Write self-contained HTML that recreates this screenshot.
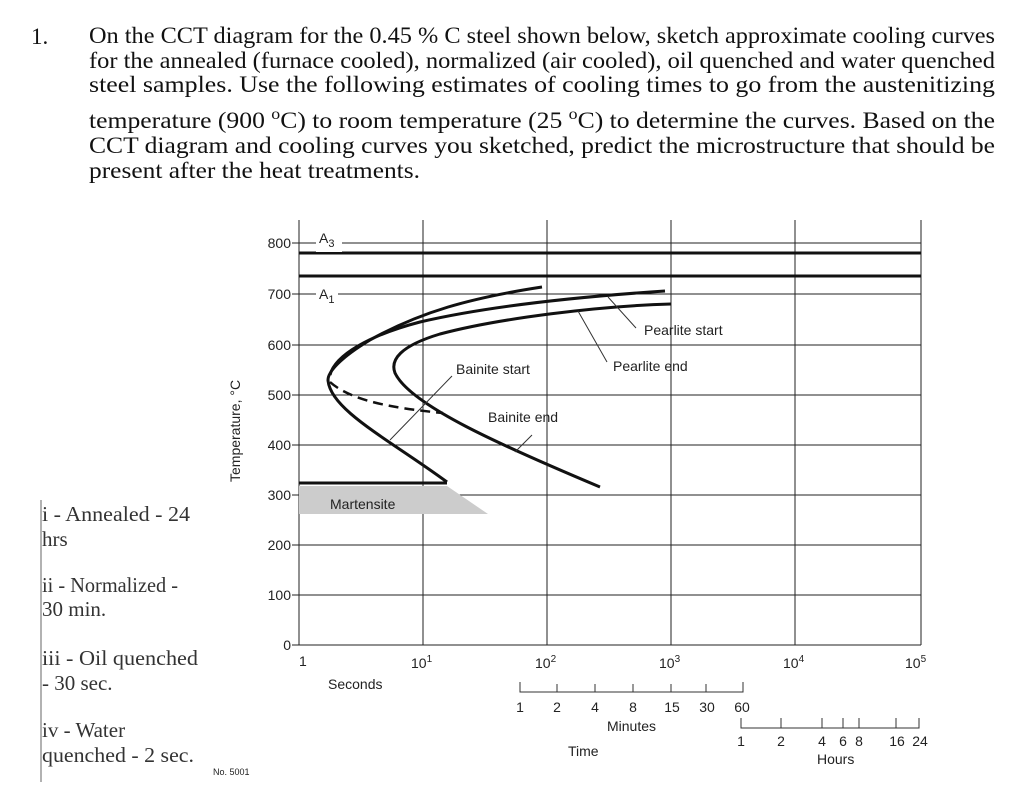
<!DOCTYPE html>
<html><head><meta charset="utf-8"><style>
html,body{margin:0;padding:0;background:#fff;}
svg{display:block;}
.h{font-family:"Liberation Serif",serif;font-size:23px;fill:#111;}
.a{font-family:"Liberation Sans",sans-serif;font-size:14px;fill:#222;}
.n{font-family:"Liberation Serif",serif;font-size:21px;fill:#333;}
</style></head><body>
<svg width="1024" height="799" viewBox="0 0 1024 799" xmlns="http://www.w3.org/2000/svg">
<text class="h" x="31" y="44" font-size="18">1.</text>
<text class="h" x="89" y="43" textLength="906" lengthAdjust="spacingAndGlyphs">On the CCT diagram for the 0.45 % C steel shown below, sketch approximate cooling curves</text>
<text class="h" x="89" y="68" textLength="906" lengthAdjust="spacingAndGlyphs">for the annealed (furnace cooled), normalized (air cooled), oil quenched and water quenched</text>
<text class="h" x="89" y="92" textLength="906" lengthAdjust="spacingAndGlyphs">steel samples. Use the following estimates of cooling times to go from the austenitizing</text>
<text class="h" x="89" y="128" textLength="906" lengthAdjust="spacingAndGlyphs">temperature (900 <tspan dy="-9" font-size="16">o</tspan><tspan dy="9">C) to room temperature (25 </tspan><tspan dy="-9" font-size="16">o</tspan><tspan dy="9">C) to determine the curves. Based on the</tspan></text>
<text class="h" x="89" y="153" textLength="906" lengthAdjust="spacingAndGlyphs">CCT diagram and cooling curves you sketched, predict the microstructure that should be</text>
<text class="h" x="89" y="178" textLength="331" lengthAdjust="spacingAndGlyphs">present after the heat treatments.</text>

<g stroke="#222" stroke-width="1" fill="none">
<path d="M299 243H921M299 294H921M299 345H921M299 395H921M299 445H921M299 495H921M299 545H921M299 595H921"/>
<path d="M423 220V645M547 220V645M671 220V645M795 220V645M921 220V645"/>
<path d="M299 220V645H921"/>
<path d="M292 243H299M292 294H299M292 345H299M292 395H299M292 445H299M292 495H299M292 545H299M292 595H299M292 645H299"/>
</g>
<polygon points="299,486 447,486 488,514 299,514" fill="#ccc"/>
<g stroke="#111" stroke-width="3" fill="none">
<path d="M299 253H921M299 276H921"/>
<path d="M299 483H447"/>
<path d="M542 287 C470 298 420 312 370 340 C340 358 328 372 328 380 C330 410 390 440 447 482"/>
<path d="M665 291 C560 298 480 308 420 322 C370 335 335 355 330 375"/>
<path d="M671 304 C600 306 500 318 440 334 C400 346 390 360 395 373 C410 405 500 445 600 487"/>
<path d="M330 382 C350 400 390 408 443 413" stroke-dasharray="10,6" stroke-width="2.5"/>
</g>
<g stroke="#333" stroke-width="1">
<path d="M390 440L452 376M515 452L532 435M608 297L636 328M578 311L607 362"/>
</g>
<rect x="316" y="232" width="26" height="20" fill="#fff"/>
<rect x="316" y="284" width="22" height="20" fill="#fff"/>
<g class="a" font-size="14.5">
<text x="456" y="374">Bainite start</text>
<text x="488" y="422">Bainite end</text>
<text x="644" y="335">Pearlite start</text>
<text x="613" y="371">Pearlite end</text>
<text x="330" y="509">Martensite</text>
<text x="319" y="243">A<tspan dy="4" font-size="11">3</tspan></text>
<text x="319" y="299">A<tspan dy="4" font-size="11">1</tspan></text>
</g>
<g class="a" text-anchor="end">
<text x="291" y="248">800</text><text x="291" y="299">700</text><text x="291" y="350">600</text><text x="291" y="400">500</text>
<text x="291" y="450">400</text><text x="291" y="500">300</text><text x="291" y="550">200</text><text x="291" y="600">100</text><text x="291" y="650">0</text>
</g>
<text class="a" transform="translate(240,482) rotate(-90)">Temperature, °C</text>
<g class="a">
<text x="299" y="666">1</text>
<text x="411" y="668">10<tspan dy="-6" font-size="10">1</tspan></text>
<text x="535" y="668">10<tspan dy="-6" font-size="10">2</tspan></text>
<text x="659" y="668">10<tspan dy="-6" font-size="10">3</tspan></text>
<text x="783" y="668">10<tspan dy="-6" font-size="10">4</tspan></text>
<text x="905" y="668">10<tspan dy="-6" font-size="10">5</tspan></text>
<text x="328" y="689">Seconds</text>
<text x="607" y="731">Minutes</text>
<text x="568" y="756">Time</text>
<text x="817" y="764">Hours</text>
<text x="213" y="775" font-size="9">No. 5001</text>
</g>
<g stroke="#333" stroke-width="1" fill="none">
<path d="M520 682V692H743V682M557 684V692M595 684V692M633 684V692M671 684V692M706 684V692"/>
<path d="M741 718V728H919V718M781 718V728M822 718V728M843 718V728M859 718V728M896 718V728"/>
</g>
<g class="a" font-size="13.5" text-anchor="middle">
<text x="520" y="712">1</text><text x="557" y="712">2</text><text x="595" y="712">4</text><text x="633" y="712">8</text><text x="672" y="712">15</text><text x="707" y="712">30</text><text x="742" y="712">60</text>
<text x="741" y="746">1</text><text x="781" y="746">2</text><text x="822" y="746">4</text><text x="843" y="746">6</text><text x="859" y="746">8</text><text x="897" y="746">16</text><text x="920" y="746">24</text>
</g>
<line x1="41" y1="500" x2="41" y2="782" stroke="#999" stroke-width="1.5"/>
<g class="n">
<text x="42" y="521" textLength="148" lengthAdjust="spacingAndGlyphs">i - Annealed - 24</text>
<text x="42" y="546">hrs</text>
<text x="42" y="592" textLength="136" lengthAdjust="spacingAndGlyphs">ii - Normalized -</text>
<text x="42" y="616">30 min.</text>
<text x="42" y="665" textLength="156" lengthAdjust="spacingAndGlyphs">iii - Oil quenched</text>
<text x="42" y="690">- 30 sec.</text>
<text x="42" y="737">iv - Water</text>
<text x="42" y="762" textLength="152" lengthAdjust="spacingAndGlyphs">quenched - 2 sec.</text>
</g>
</svg>
</body></html>
